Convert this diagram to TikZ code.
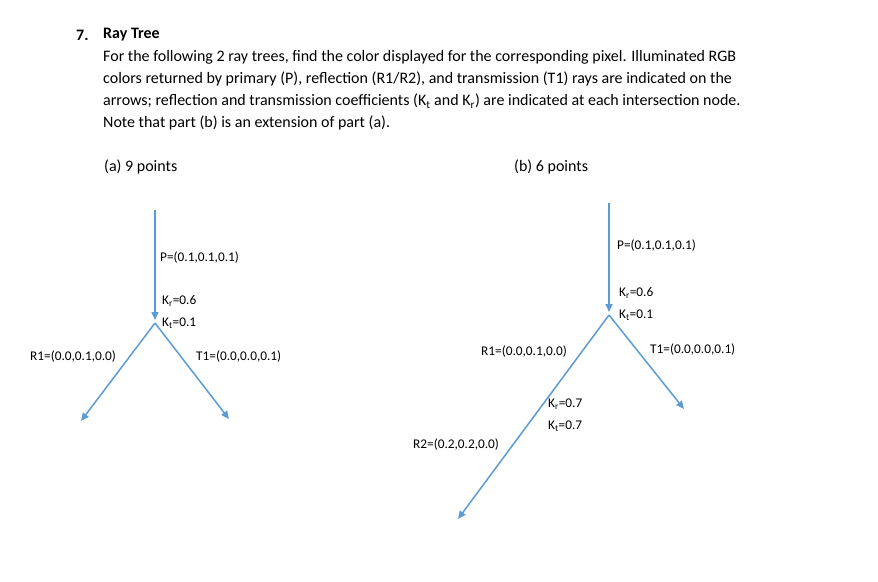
\documentclass[tikz,border=0pt]{standalone}
\usepackage{fontspec}
\setmainfont{Carlito}
\usetikzlibrary{arrows.meta}
\definecolor{rayblue}{RGB}{91,155,213}
\tikzset{
 ray/.style={draw=rayblue,line width=1.5pt,-{Triangle[length=8pt,width=7pt]}},
 lab/.style={anchor=west,inner sep=0,font=\fontsize{13.3}{15}\selectfont},
 txt/.style={anchor=west,inner sep=0,font=\fontsize{16}{19}\selectfont}
}
\begin{document}
\begin{tikzpicture}[x=1pt,y=-1pt]
\useasboundingbox (0,0) rectangle (878,581);
\node[txt] (n7) at (76,35) {\bfseries 7.};
\node[txt] (title) at (103,35) {\bfseries Ray Tree};
\node[txt] (l1) at (103,57) {For the following 2 ray trees, find the color displayed for the corresponding pixel. Illuminated RGB};
\node[txt] (l2) at (103,79) {colors returned by primary (P), reflection (R1/R2), and transmission (T1) rays are indicated on the};
\node[txt] (l3) at (103,101) {arrows; reflection and transmission coefficients (K$_\mathrm{t}$ and K$_\mathrm{r}$) are indicated at each intersection node.};
\node[txt] (l4) at (103,123) {Note that part (b) is an extension of part (a).};
\node[txt] (pa) at (104,167) {(a) 9 points};
\node[txt] (pb) at (514,167) {(b) 6 points};
% tree a
\coordinate (a0) at (155,210);
\coordinate (a1) at (155,320);
\coordinate (a1b) at (155,323);
\coordinate (aL) at (81,421);
\coordinate (aR) at (229,419);
\draw[ray] (a0) -- (a1);
\draw[ray] (a1b) -- (aL);
\draw[ray] (a1b) -- (aR);
\node[lab] (aP) at (160,258) {P=(0.1,0.1,0.1)};
\node[lab] (aKr) at (162,301) {K$_\mathrm{r}$=0.6};
\node[lab] (aKt) at (162,323) {K$_\mathrm{t}$=0.1};
\node[lab] (aR1) at (30,357) {R1=(0.0,0.1,0.0)};
\node[lab] (aT1) at (196,357) {T1=(0.0,0.0,0.1)};
% tree b
\coordinate (b0) at (609,203);
\coordinate (b1) at (609,312);
\coordinate (b1b) at (609,315);
\coordinate (bL) at (458,519);
\coordinate (bR) at (684,409);
\draw[ray] (b0) -- (b1);
\draw[ray] (b1b) -- (bL);
\draw[ray] (b1b) -- (bR);
\node[lab] (bP) at (617,246) {P=(0.1,0.1,0.1)};
\node[lab] (bKr) at (619,293) {K$_\mathrm{r}$=0.6};
\node[lab] (bKt) at (619,315) {K$_\mathrm{t}$=0.1};
\node[lab] (bR1) at (481,352) {R1=(0.0,0.1,0.0)};
\node[lab] (bT1) at (650,350) {T1=(0.0,0.0,0.1)};
\node[lab] (bKr2) at (548,404) {K$_\mathrm{r}$=0.7};
\node[lab] (bKt2) at (548,426) {K$_\mathrm{t}$=0.7};
\node[lab] (bR2) at (413,445) {R2=(0.2,0.2,0.0)};
\end{tikzpicture}
\end{document}
